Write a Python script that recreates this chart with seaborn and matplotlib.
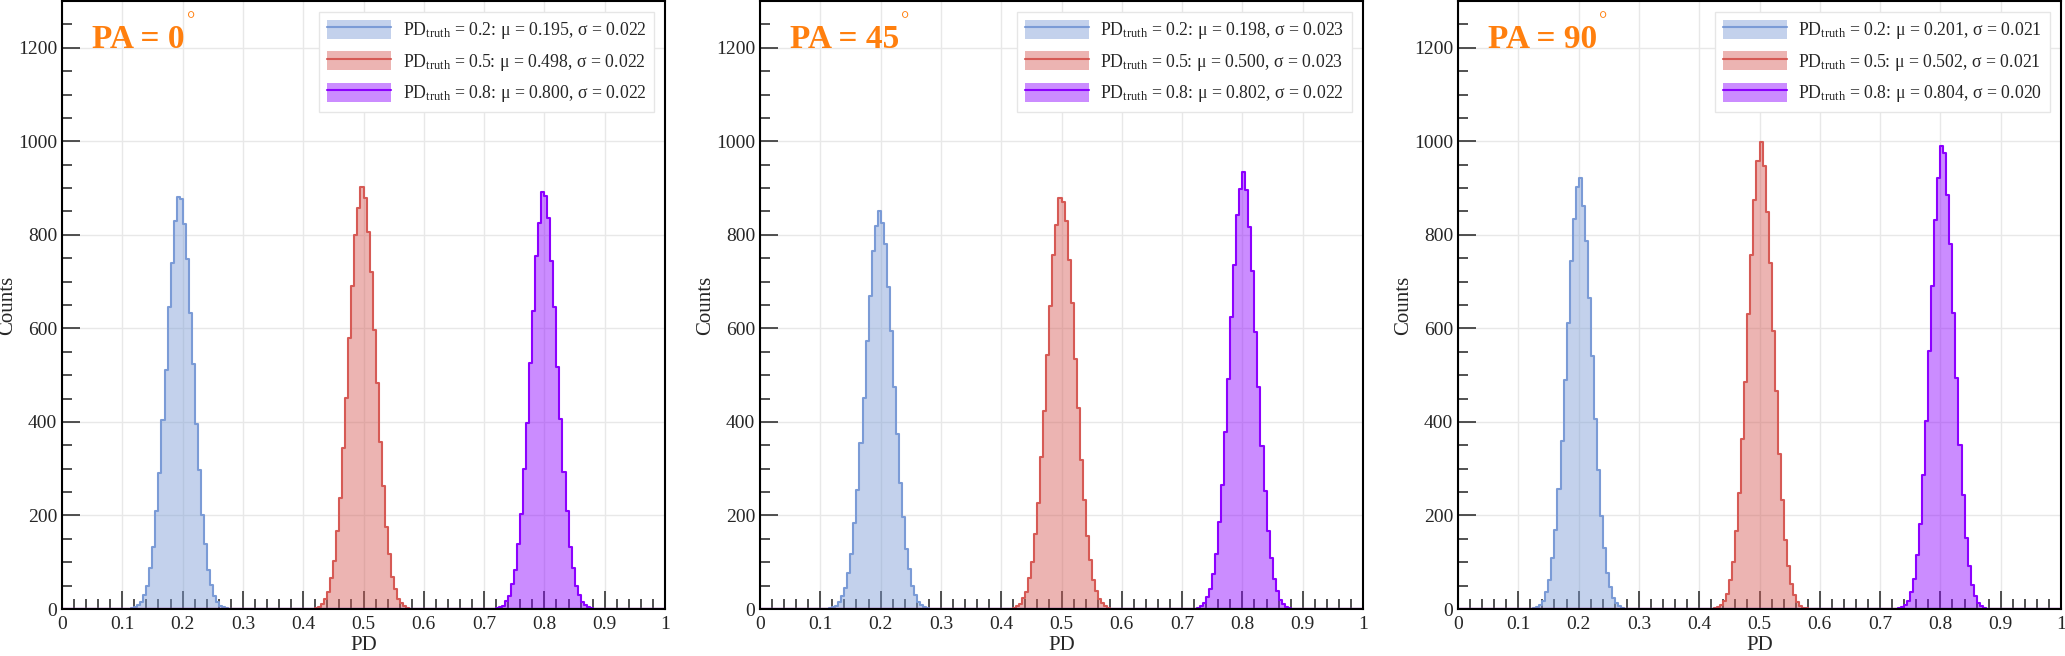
import numpy as np
import pandas as pd
import matplotlib.pyplot as plt
import seaborn as sns
from matplotlib.patches import Patch
from matplotlib.lines import Line2D
from matplotlib.ticker import MultipleLocator

sns.set_style('ticks')
plt.rcParams['font.family'] = ['Liberation Serif', 'DejaVu Serif']
plt.rcParams['mathtext.fontset'] = 'custom'
plt.rcParams['mathtext.rm'] = 'Liberation Serif'
plt.rcParams['mathtext.it'] = 'Liberation Serif:italic'
plt.rcParams['mathtext.bf'] = 'Liberation Serif:bold'

bin_width = 0.005
pa_values = ['0', '45', '90']
truths = ['0.2', '0.5', '0.8']
colors = ['#7b9bd6', '#d65a55', '#8c00ff']

# centre of the first bin of each histogram (blue, red, purple)
pa0_starts = [0.1075, 0.4125, 0.7125]
pa45_starts = [0.1125, 0.4125, 0.7175]
pa90_starts = [0.1175, 0.4175, 0.7225]

# counts per bin
pa0_blue = [0, 1, 3, 4, 9, 14, 30, 49, 88, 133, 209, 290, 405, 512, 645, 740, 830, 880,
            876, 824, 749, 632, 523, 396, 297, 201, 139, 83, 52, 27, 16, 7, 4, 2, 1, 0]
pa0_red = [0, 1, 3, 5, 10, 21, 36, 66, 103, 166, 238, 345, 451, 580, 690, 799, 858, 902,
           878, 806, 720, 597, 483, 358, 263, 175, 117, 69, 42, 22, 12, 6, 3, 1, 0]
pa0_purple = [0, 1, 2, 4, 7, 17, 28, 53, 83, 139, 203, 299, 398, 526, 638, 754, 826, 892,
              884, 835, 745, 646, 517, 407, 292, 209, 133, 87, 50, 30, 15, 8, 4, 2, 1, 0]

pa45_blue = [1, 2, 4, 7, 15, 28, 45, 78, 118, 183, 254, 355, 452, 572, 669, 766, 818, 851,
             826, 781, 688, 594, 475, 374, 270, 196, 128, 85, 50, 31, 16, 9, 4, 2, 1]
pa45_red = [1, 1, 3, 6, 11, 23, 37, 66, 101, 160, 227, 324, 423, 543, 647, 756, 820, 878,
            870, 829, 747, 655, 535, 429, 318, 233, 156, 104, 63, 39, 21, 12, 6, 3, 1, 1]
pa45_purple = [1, 1, 3, 6, 12, 25, 42, 75, 117, 186, 266, 378, 491, 625, 736, 842, 897, 934,
               896, 816, 722, 592, 474, 349, 253, 166, 110, 65, 39, 20, 11, 5, 3, 1, 0]

pa90_blue = [0, 1, 2, 5, 9, 18, 36, 62, 109, 168, 257, 359, 490, 612, 744, 834, 903, 921,
             862, 787, 664, 542, 406, 298, 198, 131, 77, 46, 23, 13, 6, 3, 1, 0, 0]
pa90_red = [0, 1, 2, 4, 8, 18, 32, 61, 100, 167, 247, 363, 485, 631, 756, 875, 958, 998,
            948, 848, 739, 595, 466, 332, 234, 148, 93, 53, 30, 15, 7, 3, 2, 1, 0]
pa90_purple = [0, 1, 2, 4, 9, 17, 36, 64, 115, 181, 286, 401, 551, 690, 832, 921, 990, 975,
               886, 780, 632, 493, 350, 243, 151, 93, 51, 28, 13, 6, 3, 1, 0, 0]

pa0_mu = ['0.195', '0.498', '0.800']
pa0_sigma = ['0.022', '0.022', '0.022']
pa45_mu = ['0.198', '0.500', '0.802']
pa45_sigma = ['0.023', '0.023', '0.022']
pa90_mu = ['0.201', '0.502', '0.804']
pa90_sigma = ['0.021', '0.021', '0.020']

panels = [
    (pa0_starts, [pa0_blue, pa0_red, pa0_purple], pa0_mu, pa0_sigma),
    (pa45_starts, [pa45_blue, pa45_red, pa45_purple], pa45_mu, pa45_sigma),
    (pa90_starts, [pa90_blue, pa90_red, pa90_purple], pa90_mu, pa90_sigma),
]

W, H = 2065, 656
fig = plt.figure(figsize=(W / 100, H / 100), dpi=100)
renderer = fig.canvas.get_renderer()
lefts = [62, 760, 1458]

for p, (starts, counts, mus, sigmas) in enumerate(panels):
    ax = fig.add_axes([lefts[p] / W, 47 / H, 603 / W, 608 / H])
    ax.set_axisbelow(True)
    ax.grid(which='major', color='#e8e8e8', lw=1)

    handles, labels = [], []
    for k in range(3):
        n = len(counts[k])
        df = pd.DataFrame({'PD': starts[k] + bin_width * np.arange(n),
                           'w': counts[k]})
        sns.histplot(data=df, x='PD', weights='w', binwidth=bin_width,
                     binrange=(0, 1), element='step', fill=True,
                     color=colors[k], alpha=0.45, linewidth=1.5, ax=ax)
        handles.append((Patch(facecolor=colors[k], alpha=0.45, edgecolor='none'),
                        Line2D([], [], color=colors[k], lw=1.5)))
        labels.append(r'PD$_{\mathrm{truth}}$ = ' + truths[k] +
                      ': μ = ' + mus[k] + ', σ = ' + sigmas[k])

    ax.set_xlim(0, 1)
    ax.set_ylim(0, 1300)
    ax.xaxis.set_major_locator(MultipleLocator(0.1))
    ax.xaxis.set_minor_locator(MultipleLocator(0.02))
    ax.yaxis.set_major_locator(MultipleLocator(200))
    ax.yaxis.set_minor_locator(MultipleLocator(50))
    ax.xaxis.set_major_formatter(lambda v, pos: f'{v:g}')
    ax.tick_params(which='both', direction='in', color='#333333', width=1.2,
                   labelsize=14, top=False, right=False)
    ax.tick_params(which='major', length=13)
    ax.tick_params(which='minor', length=7)
    ax.tick_params(axis='x', pad=5)
    ax.tick_params(axis='y', pad=3.5)
    for s in ax.spines.values():
        s.set_linewidth(1.5)
        s.set_color('black')

    ax.set_xlabel('PD', fontsize=15, labelpad=2)
    ax.set_ylabel('Counts', fontsize=15)
    ax.yaxis.set_label_coords(-0.074, 0.5)

    title = ax.text(0.05, 0.9227, 'PA = ' + pa_values[p], transform=ax.transAxes,
                    fontsize=24, fontweight='bold', color='#ff7f0e',
                    va='baseline', ha='left')
    # small raised degree ring right after the number
    bb = title.get_window_extent(renderer)
    deg_x = ax.transAxes.inverted().transform((bb.x1 + 2, bb.y1))[0]
    ax.text(deg_x, 0.958, '°', transform=ax.transAxes, fontsize=15,
            color='#ff7f0e', va='baseline', ha='left')

    ax.legend(handles, labels, loc='upper right', bbox_to_anchor=(1, 1),
              fontsize=12.8, handlelength=3.6, handleheight=1.3, handletextpad=0.65,
              labelspacing=0.55, borderaxespad=0.6, borderpad=0.45,
              frameon=True, fancybox=False, edgecolor='#e6e6e6', framealpha=1)

fig.savefig('out.png', dpi=100)
